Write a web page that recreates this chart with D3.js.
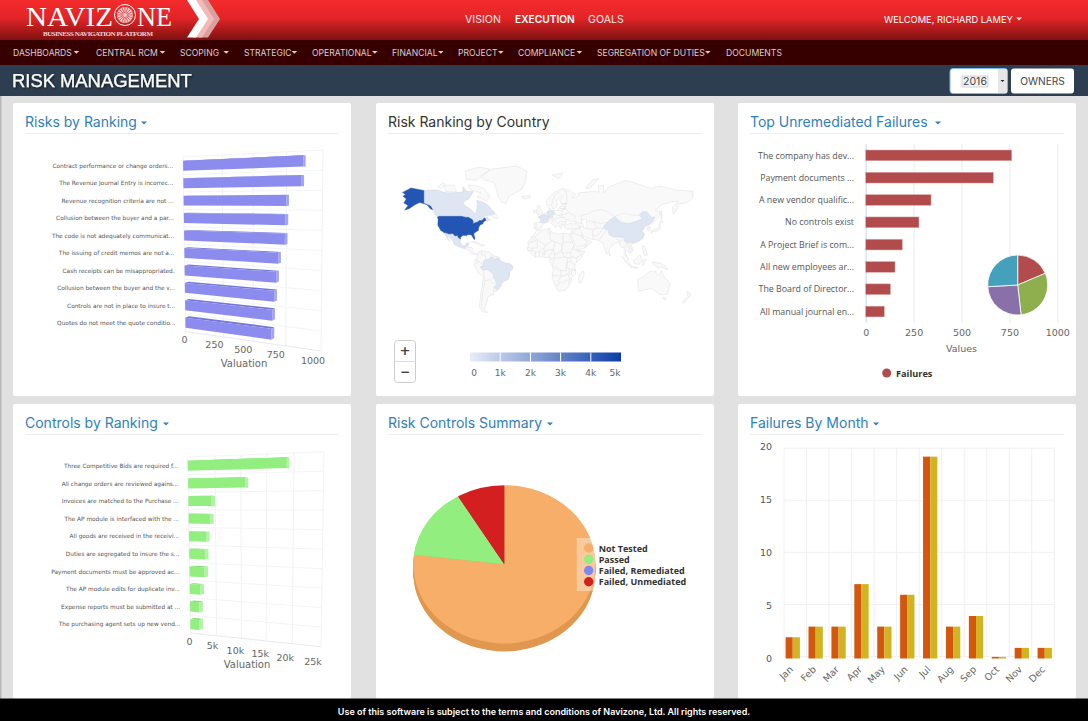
<!DOCTYPE html>
<html lang="en">
<head>
  <meta charset="UTF-8">
  <title>Risk Management</title>
  <script src="https://d3js.org/d3.v7.min.js"></script>
  <style>
    html, body { margin: 0; padding: 0; background: #e1e1e1; overflow: hidden; }
    svg { display: block; }
    text { font-family: "DejaVu Sans", sans-serif; }
    .nav { font-family: Inter, "Open Sans", sans-serif; }
    .grid line { stroke: #e8ecf2; }
  </style>
</head>
<body>
  <svg id="page" width="1088" height="721"></svg>

  <script>
    // chart values
    const riskLabels = ["Contract performance or change orders...", "The Revenue Journal Entry is incorrec...", "Revenue recognition criteria are not ...", "Collusion between the buyer and a par...", "The code is not adequately communicat...", "The issuing of credit memos are not a...", "Cash receipts can be misappropriated.", "Collusion between the buyer and the v...", "Controls are not in place to insure t...", "Quotes do not meet the quote conditio..."];
    const riskValues = [865, 855, 750, 745, 740, 690, 675, 660, 645, 640];
    const riskTicks = [0, 250, 500, 750, 1000];

    const controlLabels = ["Three Competitive Bids are required f...", "All change orders are reviewed agains...", "Invoices are matched to the Purchase ...", "The AP module is interfaced with the ...", "All goods are received in the receivi...", "Duties are segregated to insure the s...", "Payment documents must be approved ac...", "The AP module edits for duplicate inv...", "Expense reports must be submitted at ...", "The purchasing agent sets up new vend..."];
    const controlValues = [18700, 10800, 4325, 4000, 3200, 2950, 2850, 2000, 1750, 1700];
    const controlTicks = [0, 5000, 10000, 15000, 20000, 25000];

    const failureLabels = ["The company has dev...", "Payment documents ...", "A new vendor qualific...", "No controls exist", "A Project Brief is com...", "All new employees ar...", "The Board of Director...", "All manual journal en..."];
    const failureValues = [762, 666, 341, 278, 191, 153, 129, 97];
    const failureTicks = [0, 250, 500, 750, 1000];
    const miniPieValues = [186, 296, 259, 259];

    const summaryLabels = ["Not Tested", "Passed", "Failed, Remediated", "Failed, Unmediated"];
    const summaryValues = [769, 146, 0, 85];

    const months = ["Jan", "Feb", "Mar", "Apr", "May", "Jun", "Jul", "Aug", "Sep", "Oct", "Nov", "Dec"];
    const monthSeriesA = [2, 3, 3, 7, 3, 6, 19, 3, 4, 0.15, 1, 1];
    const monthSeriesB = [2, 3, 3, 7, 3, 6, 19, 3, 4, 0.15, 1, 1];
    const monthTicks = [0, 5, 10, 15, 20];

    const legendTicks = [0, 1000, 2000, 3000, 4000, 5000];

    const navItems = ["DASHBOARDS", "CENTRAL RCM", "SCOPING", "STRATEGIC", "OPERATIONAL", "FINANCIAL", "PROJECT", "COMPLIANCE", "SEGREGATION OF DUTIES", "DOCUMENTS"];

    // rough country outlines, [lon, lat]
    const usaRings = [
      [[-124.7,48.4],[-123,49],[-95.2,49],[-94.6,48.7],[-89.6,48],[-88.4,48.3],[-84.8,46.7],[-83.5,46],[-82.5,45.3],[-82.1,43],[-83,42],[-79,42.8],[-79,43.3],[-76.5,43.6],[-75,45],[-71.5,45],[-70,46.5],[-69,47.4],[-67.8,47],[-67,45],[-70,43.7],[-70.5,41.8],[-74,40.6],[-75.5,38],[-76,35],[-78,33.9],[-81,32],[-81.4,30.5],[-80,26.8],[-80.4,25.2],[-81.8,26],[-82.8,28],[-84,30],[-86,30.4],[-89,30.3],[-90,29.2],[-93.8,29.7],[-97,28],[-97.2,25.9],[-99.2,26.5],[-101.4,29.8],[-103,29],[-104.5,29.6],[-106.5,31.8],[-108.2,31.4],[-111,31.3],[-114.8,32.5],[-117.1,32.5],[-118.5,34],[-120.6,34.6],[-122.5,37.5],[-124.3,40.3],[-124,46]],
      [[-141,69.6],[-141,60.3],[-137,58.9],[-133,55.5],[-130.5,55],[-133,58],[-137.5,59.2],[-146,60.8],[-151,59.3],[-154,58],[-158,56],[-164,54.5],[-160,58.5],[-165,60.5],[-162,63.5],[-166,65.5],[-163,67],[-166.5,68.3],[-156.5,71.3]]
    ];
    const tintedRings = [
      // canada
      [[-141,69.6],[-130,70],[-125,70],[-115,68],[-108,68],[-95,68.5],[-94,72],[-90,69],[-82,69],[-87,64],[-94,61],[-93,58.7],[-85,55.5],[-82,52.5],[-79,51.5],[-78,55],[-77,60],[-78,62.5],[-70,61],[-65,59],[-60,55],[-56,52],[-60,50],[-66,50],[-70,47],[-65,48.5],[-64,46],[-61,46],[-66,44],[-67,45],[-67.8,47],[-69,47.4],[-70,46.5],[-71.5,45],[-75,45],[-76.5,43.6],[-79,43.3],[-79,42.8],[-83,42],[-82.1,43],[-82.5,45.3],[-83.5,46],[-84.8,46.7],[-88.4,48.3],[-89.6,48],[-94.6,48.7],[-95.2,49],[-123,49],[-124.7,48.4],[-128,51],[-130.5,55],[-137,58.9],[-141,60.3]],
      // mexico
      [[-117.1,32.5],[-114.8,32.5],[-111,31.3],[-108.2,31.4],[-106.5,31.8],[-104.5,29.6],[-103,29],[-101.4,29.8],[-99.2,26.5],[-97.2,25.9],[-97.8,22.5],[-96,19],[-94,18.2],[-91,18.7],[-90.5,21],[-87,21.5],[-88,18],[-89,17.9],[-91,17],[-92.2,14.6],[-96,15.8],[-101,17.5],[-105.5,20],[-106,23],[-109.3,26.5],[-112.8,30],[-114.5,31],[-110,23],[-112,25],[-115,29]],
      // brazil
      [[-73.9,-7.4],[-70,-4.3],[-70,0],[-67,1.5],[-64,2],[-60,5],[-57,2],[-54,2.3],[-51.5,4.4],[-50,0],[-44.5,-2.5],[-38,-3.7],[-35,-6],[-35,-9],[-38.5,-13],[-39,-18],[-41,-22],[-45,-23.5],[-48.5,-26],[-48.8,-28.5],[-53.4,-33.8],[-57.6,-30.2],[-53.8,-27],[-54.6,-25.5],[-55.8,-22.3],[-58,-20],[-58,-16.3],[-60.2,-13.8],[-65.3,-10],[-70.5,-11]],
      // china
      [[73.5,39.5],[80,45],[87,49],[91,45.5],[96,43],[104,42],[112,44],[120,47],[116,50],[120,53.3],[125,53],[131,48],[135,48.3],[131,43],[124.5,40],[121,39],[122,37],[119,35],[122,31],[120,26],[114,22.5],[108,21.5],[102,22],[98,24],[98,28],[92,28],[86,28],[80,30.5],[79,35],[74.5,37]],
      // france
      [[-1,46],[-4.5,48.5],[1.5,50.5],[2.5,51],[6,49.5],[8,49],[7,44],[3.5,43],[3,42.5],[-2,43.4]],
      // germany
      [[7,53.5],[8,54],[10.8,54],[14,54],[15,51],[12,50.3],[13,47.6],[7.5,47.6],[8,49],[6,51]]
    ];
    const landRings = [
      // greenland, arctic islands, newfoundland
      [[-73,78],[-60,82],[-30,83.5],[-18,81],[-20,75],[-24,70.5],[-32,68],[-40,65],[-43,60],[-48,61],[-53,66],[-54,70],[-58,75],[-68,76]],
      [[-80,73],[-70,71],[-62,66],[-66,62],[-73,64],[-78,65],[-73,68],[-85,70],[-88,73]],
      [[-117,73],[-105,73],[-102,69],[-115,69]],
      [[-90,76.5],[-78,76],[-62,82],[-75,83],[-92,81]],
      [[-125,72],[-117,74.5],[-115,73],[-120,71]],
      [[-59,47.7],[-53,46.7],[-53,49],[-56,51.5]],
      // central america, caribbean
      [[-92.2,14.6],[-91,17],[-89,17.9],[-88.3,16],[-84,15.8],[-83,14.9],[-83.6,11],[-82,9],[-79.5,9.5],[-77.3,8.7],[-78,7.5],[-80.5,7.5],[-83,8.3],[-85.7,10],[-87.5,13],[-90,13.8]],
      [[-85,22],[-80,23],[-74.2,20.2],[-77.7,19.9],[-82,22]],
      [[-74.4,18.5],[-72,20],[-68.4,18.6],[-71,17.8]],
      // south america
      [[-77.3,8.7],[-75,11],[-71.5,12.4],[-68,11],[-62,10.7],[-60,8.5],[-57,6],[-54,5.8],[-51.5,4.4],[-50,0],[-44.5,-2.5],[-38,-3.7],[-35,-6],[-35,-9],[-38.5,-13],[-39,-18],[-41,-22],[-45,-23.5],[-48.5,-26],[-48.8,-28.5],[-53.4,-33.8],[-55,-35],[-58,-34.5],[-57,-38],[-62,-39],[-65,-41],[-65.5,-45],[-68,-50],[-68.5,-52.5],[-65,-55],[-71,-54.5],[-75,-50],[-73.5,-42],[-73,-37],[-71.5,-30],[-70,-18.5],[-76,-14],[-81.2,-5],[-80,-2],[-80,1],[-77.5,4]],
      // africa, madagascar
      [[-5.9,35.8],[-1,35.2],[10,37.3],[11,33.5],[15,32.3],[20,31],[25,32],[32,31.3],[34.2,31.3],[33,28],[37,21],[39,15.5],[43,12],[51,12],[48,5],[40,-3],[39,-7],[40.5,-15],[35,-20],[35.5,-24],[32.8,-26],[32,-29],[27,-33.8],[20,-34.8],[18,-33],[15,-27],[12,-18],[13.5,-11],[12,-5],[9,-1],[9.5,4],[5,4.3],[-4,5],[-8,4.4],[-13,8.5],[-16.8,12.5],[-17.4,14.7],[-16,19],[-17,21],[-13,27.5],[-10,30],[-6.8,34]],
      [[49.3,-12],[50.4,-16],[47,-25],[44,-25],[43.5,-20],[44.5,-16]],
      // eurasia
      [[-9,37],[-9.3,43],[-2,43.5],[-1,46],[-4.5,48.5],[1.5,50.5],[4,52],[8,54],[8.5,57],[10.8,54],[14,54],[19,54.5],[21,57],[24,59.4],[30,60],[23,60],[21,63],[25,65.5],[22,65.8],[17.5,62],[18.5,59.5],[16.5,56.5],[13,55.5],[11,59],[6,58],[5,62],[14,68],[25,71],[31,70],[41,67],[35,64.5],[40,64.6],[44,66],[44,68],[54,68.5],[60,69],[68,68.5],[67,72.5],[73,73],[74,68],[80,72],[100,76],[113,74],[130,71],[140,72.5],[160,70],[180,69],[180,65],[177,62.5],[170,60],[163,59.8],[162,56],[157,51],[155.5,57],[163,62],[156,61.5],[143,59],[135,54.5],[141,53],[140,48],[133,43],[130,42.5],[127.5,39.8],[129.5,37],[129,35],[126.5,34.5],[125,38],[124.5,40],[121,39],[122,37],[119,35],[122,31],[120,26],[114,22.5],[110,21],[106,19.5],[109,13],[105,9],[103,11],[100.5,13.5],[99.5,9],[103.5,1.5],[100.5,5],[98,8],[98,16],[94.5,16],[92,21],[90,22],[87,21],[80.5,15],[80,10],[77.5,8],[73,19],[72,21],[67,24.5],[61,25],[57,26],[52,27.5],[48,30],[51,25],[56,24.5],[59.5,22.5],[52,16],[43,12.7],[39,21],[35,28],[34.2,31.3],[36,36.5],[30,36.3],[26.5,38.5],[26.5,40.3],[29,41],[35,42],[41.5,41.5],[38,44.5],[34,44.4],[30,46],[28,42],[26,40.8],[23,40],[24,38],[22.5,36.5],[19.5,41.5],[13.5,45.5],[12.5,44],[18.5,40],[16,38],[11,42.5],[8.5,44],[3.5,43],[0.5,40.5],[-0.5,38],[-5.5,36]],
      // islands around eurasia
      [[-5.5,50],[1.5,51.5],[0,53.5],[-2,56],[-2,57.7],[-5,58.5],[-5.5,55],[-3,54],[-5,52]],
      [[-10,52],[-6,52.3],[-6,55],[-10,54]],
      [[-24,65.5],[-14,66],[-14,64.5],[-22,63.5]],
      [[130.5,31.5],[132,34],[136.5,34],[141,36],[142,40],[140,41.5],[139,38],[133,35.5],[130,33.5]],
      [[140,42],[145,43.5],[142,45.5]],
      [[120,18],[122,18],[124,13],[126,7],[122,7],[120,14]],
      [[95.5,5.5],[104,-2],[106,-6],[101,-3]],
      [[109,1],[117,7],[119,1],[116,-4],[110,-3]],
      [[105.5,-6.5],[114.5,-7.5],[114.5,-8.7],[106,-7.5]],
      [[120,1],[125,1.5],[122,-1],[122,-5],[119.5,-5]],
      [[131,-1],[141,-2.6],[147,-6],[150.5,-10.5],[144,-8],[138,-8],[133,-4]],
      [[80,9.5],[82,7],[80.5,6]],
      [[142,54],[143.5,50],[142.5,46],[142,50]],
      [[52,71],[57,71],[68,77],[60,76]],
      [[12,79],[25,80],[20,77]],
      // oceania
      [[114,-22],[122,-18],[126,-14],[130,-12],[136,-12],[136,-15],[140,-17.5],[142.5,-11],[146,-19],[153,-26],[150,-37.5],[145,-38.5],[140,-38],[136,-35],[131,-31.5],[124,-33],[115,-34.5],[115,-30]],
      [[144.5,-41],[148,-41],[147,-43.5],[146,-43.5]],
      [[172.7,-34.5],[178,-38],[175,-41.5],[174,-39]],
      [[172,-41],[174,-42],[170,-46.5],[167,-46]]
    ];
    const borderLines = [
      // south america
      [[-71.5,12.4],[-72.5,7.5],[-67.5,6],[-67,1.5]],[[-70,-4.3],[-75,-1],[-78.5,-3.5],[-80,-3.5]],[[-78.8,1.4],[-75,-0.2]],[[-70.5,-11],[-69,-16],[-70,-18.5]],[[-69,-18],[-68,-24],[-70,-33],[-71.5,-40],[-72,-50],[-68.5,-52.5]],[[-68,-23],[-62.5,-22],[-58,-20]],[[-62.5,-22],[-58,-27],[-54.6,-25.5]],[[-58,-34],[-57.6,-30.2]],[[-60,8],[-60,5]],[[-57,6],[-57,2]],[[-54,5.8],[-54,2.3]],
      // africa
      [[-1,35.2],[-2,32],[-8.7,28],[-13,27.5]],[[8.5,37],[7.7,33],[9.5,30]],[[11,33.5],[9.5,30],[10,24.5],[14,23],[24,19.5],[25,20],[25,32]],[[-8.7,27.3],[-5,25],[3,19],[5.7,19.5],[12,23.5]],[[-17,21],[-13,21.3],[-13,23],[-8.7,27.3]],[[-13,21.3],[-6,25]],[[-16.5,16],[-12,15],[-5.5,15.5],[-6,25]],[[-12,15],[-11.5,12.3],[-8,10.5],[-5,11],[-3,11],[1,15],[3.5,15.5],[4,19]],[[3.5,11.7],[3,12.5],[1,15]],[[3.5,11.7],[8,13],[13.5,13.5],[15.5,20.5],[14,23]],[[13.5,13.5],[15,8],[19,9],[22,11],[23.5,15.5],[24,19.5]],[[25,22],[37,22]],[[25,20],[23.5,15.5],[24,10],[27,9.5],[34,10],[36,14.5],[38.5,18]],[[24,10],[27,5],[31,3.5],[35,5],[34,10]],[[36,14.5],[43,12]],[[35,5],[41,4],[48,8],[43,12]],[[41,-1.5],[41,4]],[[35,5],[34,-1],[39.3,-4.6]],[[34,-1],[30,-1],[30,-4.5],[29.5,-6.5],[32,-9.5],[40,-10.5]],[[18.5,3.5],[27,5],[31,3.5],[30,-1],[29.5,-6.5],[28.5,-12],[22,-11],[13,-6]],[[2.7,6.3],[3.5,11.7]],[[8.5,4.5],[13.5,13.5]],[[15,8],[15,3.5],[18.5,3.5]],[[15,3.5],[9.5,2.2]],[[14,2],[13,-3.5],[12,-5]],[[12,-17.3],[23,-17.5],[22,-11]],[[23,-17.5],[25,-18],[30,-15.5],[33,-13],[32,-9.5]],[[40.5,-10.5],[35,-11.5],[35,-16],[30.5,-15.5],[33,-20],[32,-26]],[[17,-28.5],[20,-28],[20,-22],[23,-18]],[[20,-25],[25,-25.5],[29,-22.5],[32,-22.5]],[[-8,10.5],[-8,4.4]],[[-3,11],[-3,5]],[[1,11],[1,6]],[[-16.8,12.5],[-11.5,12.3]],
      // europe
      [[25,70],[29,69],[30,62],[28,60.5]],[[20,69],[14,65],[12,60],[11,59]],[[28,59.5],[28,56],[23,54.3]],[[21,56],[28,56]],[[24,58],[27.5,57.5]],[[19,54.5],[23.5,54],[24,50.5],[19,49.5],[15,51]],[[-7,42],[-7,37]],[[7,44],[7,46],[13.5,46.5]],[[13.5,46],[16.5,46.5],[22,48],[27,48],[29,45.5]],[[22.5,44],[28,44]],[[22,41.5],[26,41.5]],[[19.3,42],[22,44]],[[24,50.5],[32,52],[40,49.5],[38.2,47]],[[22.3,48.3],[24,50.5]],[[23.5,54],[28,56],[32,53]],
      // asia
      [[47,45],[47,50],[55,51],[61,54],[70,55],[77,53.5],[87,49]],[[87,49],[98,52],[107,50],[116,50]],[[53,42],[56,45],[61,44],[66,43],[70,42],[74,43],[80,43]],[[54,37],[61,36],[66,37.5],[74,37.5]],[[61,44],[66,37.5]],[[44.5,39.5],[48,38.5]],[[44.5,39.5],[46,35],[48,30]],[[61,36],[60.5,31],[61.5,25]],[[60.5,31],[61,29.5],[66,29.5],[70,33],[71.5,36.5],[74.5,37]],[[68,24],[71,28],[74,32],[77,35]],[[26.5,41],[28,42]],[[36,36.5],[44.5,37],[44.5,39.5],[43,41.5]],[[38,44],[48,42]],[[35,32],[39,32],[46,29],[48,30]],[[36,33],[42,37]],[[46,29],[51,25]],[[43,17],[52,19],[55,22],[52,24]],[[52,19],[52,16]],[[88,26],[92,25],[92,21]],[[92,28],[97,28],[95,24],[92,21]],[[98,24],[101,21],[100,18],[98,16]],[[102,22],[104,19],[107,15],[106,11]],[[101,18],[105,15],[103,11]],[[99.5,7],[102,6]],[[124.5,40],[130,42.5]],[[126,38],[128.5,38.5]]
    ];
    const caspianRing = [[47,45],[53,46.8],[53,40],[54,37],[50,37.5],[49,40.5]];

    const svg = d3.select("#page");
    const defs = svg.append("defs");

    function gradient(id, stops, horizontal) {
      const g = defs.append("linearGradient").attr("id", id)
        .attr("x1", 0).attr("y1", 0).attr("x2", horizontal ? 1 : 0).attr("y2", horizontal ? 0 : 1);
      stops.forEach(s => g.append("stop").attr("offset", s[0]).attr("stop-color", s[1]));
    }
    gradient("headerFill", [[0, "#f42b2c"], [0.45, "#e32426"], [1, "#7f1111"]]);
    gradient("mapLegend", [[0, "#e8edf7"], [1, "#0a3ca8"]], true);
    const shadow = defs.append("filter").attr("id", "textShadow");
    shadow.append("feDropShadow").attr("dx", 1).attr("dy", 1).attr("stdDeviation", 0.8).attr("flood-color", "#000").attr("flood-opacity", 0.6);

    // page frame
    svg.append("rect").attr("width", 1088).attr("height", 721).attr("fill", "#e1e1e1");
    svg.append("rect").attr("y", 96).attr("width", 1.5).attr("height", 603).attr("fill", "#b8b8b8");
    svg.append("rect").attr("width", 1088).attr("height", 40).attr("fill", "url(#headerFill)");
    svg.append("rect").attr("y", 40).attr("width", 1088).attr("height", 25).attr("fill", "#360000");
    svg.append("rect").attr("y", 65).attr("width", 1088).attr("height", 31).attr("fill", "#2d3e50");

    function caret(g, x, y, color, size) {
      g.append("path").attr("d", d3.line()([[x, y], [x + size * 2, y], [x + size, y + size]])).attr("fill", color);
    }

    // logo
    const logo = svg.append("g");
    logo.append("text").attr("x", 26).attr("y", 25.5).attr("font-size", 28).attr("fill", "#fff")
      .style("font-family", "'Liberation Serif'").attr("textLength", 87).attr("lengthAdjust", "spacingAndGlyphs").text("NAVIZ");
    logo.append("text").attr("x", 137).attr("y", 25.5).attr("font-size", 28).attr("fill", "#fff")
      .style("font-family", "'Liberation Serif'").attr("textLength", 35).attr("lengthAdjust", "spacingAndGlyphs").text("NE");
    logo.append("circle").attr("cx", 125).attr("cy", 15).attr("r", 10.5).attr("fill", "none").attr("stroke", "#fff").attr("stroke-width", 1);
    logo.append("circle").attr("cx", 125).attr("cy", 15).attr("r", 8).attr("fill", "#fff").attr("opacity", 0.75);
    d3.range(16).forEach(i => {
      const a = i / 16 * 2 * Math.PI;
      logo.append("line").attr("x1", 125 + 2 * Math.cos(a)).attr("y1", 15 + 2 * Math.sin(a))
        .attr("x2", 125 + 8 * Math.cos(a)).attr("y2", 15 + 8 * Math.sin(a)).attr("stroke", "#c22").attr("stroke-width", 0.6);
    });
    logo.append("text").attr("x", 43).attr("y", 35.5).attr("font-size", 7).attr("font-weight", "bold").attr("fill", "#f2d4d4")
      .style("font-family", "'Liberation Serif'").attr("textLength", 110).text("BUSINESS NAVIGATION PLATFORM");
    [[12, "#d9a0a0"], [6, "#f3b9b9"], [0, "#fff"]].forEach(c => {
      const o = c[0];
      logo.append("polygon").attr("fill", c[1])
        .attr("points", [[187 + o, 0], [196 + o, 0], [208 + o, 19], [196 + o, 37.5], [187 + o, 37.5], [199 + o, 19]].join(" "));
    });

    // top nav
    const topNav = svg.append("g").attr("class", "nav").attr("fill", "#f6e6e6").attr("font-size", 11);
    topNav.append("text").attr("x", 465).attr("y", 23).attr("font-size", 10.6).text("VISION").style("font-family", "Inter");
    topNav.append("text").attr("x", 515).attr("y", 23).attr("font-size", 10.2).attr("font-weight", 600).attr("fill", "#fff").text("EXECUTION").style("font-family", "Inter");
    topNav.append("text").attr("x", 588).attr("y", 23).attr("font-size", 10.6).text("GOALS").style("font-family", "Inter");
    topNav.append("text").attr("x", 884).attr("y", 22.5).attr("font-size", 9.3).attr("fill", "#fff").text("WELCOME, RICHARD LAMEY").style("font-family", "Inter");
    caret(topNav, 1016, 17.5, "#f2dede", 3);

    const subNav = svg.append("g").attr("fill", "#d9cfcf").attr("font-size", 8.6);
    const navX = [13, 96, 180, 244, 312, 392, 458, 518, 597, 726];
    const navCaret = [73.6, 159.7, 223.4, 291.6, 372, 438, 498, 576.6, 705, null];
    navItems.forEach((name, i) => {
      subNav.append("text").attr("x", navX[i]).attr("y", 55.5).text(name).style("font-family", "Inter");
      if (navCaret[i]) caret(subNav, navCaret[i], 51, "#d9cfcf", 2.8);
    });

    // title bar
    svg.append("text").attr("x", 12).attr("y", 86.5).attr("font-size", 18.4).attr("fill", "#fff").attr("stroke", "#fff").attr("stroke-width", 0.25)
      .style("font-family", "'Liberation Sans'").attr("filter", "url(#textShadow)").text("RISK MANAGEMENT");
    svg.append("rect").attr("x", 950).attr("y", 68.5).attr("width", 57.5).attr("height", 25).attr("rx", 3).attr("fill", "#fff").attr("stroke", "#7db7e8");
    svg.append("rect").attr("x", 962).attr("y", 76).attr("width", 26).attr("height", 11).attr("fill", "#f3f3f3").attr("stroke", "#bbb").attr("stroke-width", 0.6);
    svg.append("text").attr("x", 975).attr("y", 85).attr("text-anchor", "middle").attr("font-size", 10.5).attr("fill", "#444").text("2016").style("font-family", "Inter");
    svg.append("rect").attr("x", 998).attr("y", 69).attr("width", 9).attr("height", 24).attr("fill", "#e6e6e6");
    caret(svg, 1000.5, 80, "#222", 2);
    svg.append("rect").attr("x", 1011).attr("y", 68.5).attr("width", 63).attr("height", 25).attr("rx", 3).attr("fill", "#fff");
    svg.append("text").attr("x", 1042.5).attr("y", 84.5).attr("text-anchor", "middle").attr("font-size", 10.2).attr("fill", "#444").text("OWNERS").style("font-family", "Inter");

    // cards
    function card(x, y, h, title, titleColor, hasCaret, titleWidth) {
      svg.append("rect").attr("x", x).attr("y", y).attr("width", 338).attr("height", h).attr("rx", 2).attr("fill", "#fff");
      svg.append("text").attr("x", x + 12).attr("y", y + 24).attr("font-size", 14).attr("fill", titleColor).text(title).style("font-family", "Inter");
      if (hasCaret) caret(svg, x + 12 + titleWidth + 5, y + 18.5, titleColor, 3);
      svg.append("line").attr("x1", x + 12).attr("x2", x + 326).attr("y1", y + 30.5).attr("y2", y + 30.5).attr("stroke", "#eceef2");
    }
    card(13, 103, 293, "Risks by Ranking", "#2f80c0", true, 111);
    card(376, 103, 293, "Risk Ranking by Country", "#333", false, 0);
    card(738, 103, 293, "Top Unremediated Failures", "#2f80c0", true, 180);
    card(13, 404, 295, "Controls by Ranking", "#2f80c0", true, 133);
    card(376, 404, 295, "Risk Controls Summary", "#2f80c0", true, 154);
    card(738, 404, 295, "Failures By Month", "#2f80c0", true, 118);

    // perspective bar chart, built from a value scale and a band scale on a skewed plane
    function perspectiveBars(o) {
      const g = svg.append("g");
      const u = d3.scaleLinear().domain(o.ticks).range(o.uStops);
      const band = d3.scaleBand().domain(o.labels).range([0, 1]).paddingInner(0.43).paddingOuter(0.215);
      const lerp = (a, b, t) => [a[0] + (b[0] - a[0]) * t, a[1] + (b[1] - a[1]) * t];
      const plane = (v, t) => lerp(lerp(o.topLeft, o.botLeft, t), lerp(o.topRight, o.botRight, t), u(v));
      const backOf = p => lerp(p, o.vanish, o.depth);

      // walls
      o.ticks.forEach(v => {
        g.append("line").attr("x1", plane(v, 0)[0]).attr("y1", plane(v, 0)[1]).attr("x2", plane(v, 1)[0]).attr("y2", plane(v, 1)[1])
          .attr("stroke", "#f0f2f5");
      });
      const maxV = o.ticks[o.ticks.length - 1];
      band.domain().forEach((d, i) => {
        const t = band.step() * i;
        g.append("line").attr("x1", plane(0, t)[0]).attr("y1", plane(0, t)[1]).attr("x2", plane(maxV, t)[0]).attr("y2", plane(maxV, t)[1])
          .attr("stroke", "#f3f4f7");
      });
      g.append("line").attr("x1", plane(0, 1)[0]).attr("y1", plane(0, 1)[1]).attr("x2", plane(maxV, 1)[0]).attr("y2", plane(maxV, 1)[1]).attr("stroke", "#e6e9ee");

      // bars
      o.values.forEach((v, i) => {
        const t0 = band(o.labels[i]);
        const t1 = t0 + band.bandwidth();
        const a = plane(0, t0), b = plane(v, t0), c = plane(v, t1), d = plane(0, t1);
        g.append("polygon").attr("points", [a, backOf(a), backOf(b), b].join(" ")).attr("fill", o.topColor);
        g.append("polygon").attr("points", [b, backOf(b), backOf(c), c].join(" ")).attr("fill", o.sideColor);
        g.append("polygon").attr("points", [a, b, c, d].join(" ")).attr("fill", o.color);
        const left = plane(0, (t0 + t1) / 2);
        g.append("text").attr("x", lerp([o.labelX[0], 0], [o.labelX[1], 0], (t0 + t1) / 2)[0]).attr("y", left[1] + 2.2)
          .attr("text-anchor", "end").attr("font-size", o.labelSize).attr("fill", "#555").text(o.labels[i]);
      });

      // value ticks
      o.ticks.forEach((v, i) => {
        const p = plane(v, 1);
        g.append("text").attr("x", p[0] + o.tickDx[i]).attr("y", p[1] + o.tickDy[i] + 3.3).attr("text-anchor", "middle")
          .attr("font-size", 9.5).attr("fill", "#666").text(o.tickFormat(v));
      });
      g.append("text").attr("x", o.titlePos[0]).attr("y", o.titlePos[1]).attr("text-anchor", "middle").attr("font-size", 10).attr("fill", "#666").text("Valuation");
    }

    perspectiveBars({
      labels: riskLabels, values: riskValues, ticks: riskTicks, uStops: [0, 0.28, 0.5, 0.74, 1],
      topLeft: [183, 157], botLeft: [185.5, 331.5], topRight: [323, 150], botRight: [321, 351],
      vanish: [500, 190], depth: 0.012, color: "#8b8cee", sideColor: "#a2a3f4", topColor: "#7476dc",
      labelX: [173, 175.5], labelSize: 5.8,
      tickDx: [-1, -9, -10, -10, -8], tickDy: [8.5, 8, 8, 9, 10],
      tickFormat: d3.format("d"), titlePos: [244, 367]
    });
    perspectiveBars({
      labels: controlLabels, values: controlValues, ticks: controlTicks, uStops: [0, 0.2, 0.39, 0.58, 0.78, 1],
      topLeft: [187.7, 457], botLeft: [190.5, 633], topRight: [324, 451.7], botRight: [321, 646.7],
      vanish: [500, 520], depth: 0.012, color: "#93ee80", sideColor: "#b0f3a2", topColor: "#7fdc6d",
      labelX: [178, 180.5], labelSize: 5.8,
      tickDx: [-1, -4, -6, -6, -7, -8], tickDy: [9, 10, 12, 13, 14, 15],
      tickFormat: v => v === 0 ? "0" : (v / 1000) + "k", titlePos: [247, 668]
    });

    // world map
    const millerRaw = (lam, phi) => [lam, 1.25 * Math.log(Math.tan(Math.PI / 4 + 0.4 * phi))];
    const projection = d3.geoProjection(millerRaw).scale(48).translate([542, 261]).clipExtent(null);
    const ringPath = d3.line().x(d => projection(d)[0]).y(d => projection(d)[1]).curve(d3.curveLinearClosed);
    const openPath = d3.line().x(d => projection(d)[0]).y(d => projection(d)[1]);
    const map = svg.append("g").attr("stroke-linejoin", "round");
    map.selectAll(".land").data(landRings).join("path").attr("d", ringPath).attr("fill", "#f9f9f9").attr("stroke", "#dedede").attr("stroke-width", 0.5);
    map.selectAll(".border").data(borderLines).join("path").attr("d", openPath).attr("fill", "none").attr("stroke", "#dedede").attr("stroke-width", 0.5);
    map.append("path").attr("d", ringPath(caspianRing)).attr("fill", "#fff").attr("stroke", "#dedede").attr("stroke-width", 0.5);
    map.selectAll(".tint").data(tintedRings).join("path").attr("d", ringPath).attr("fill", "#dfe6f3").attr("stroke", "#d0d6e2").attr("stroke-width", 0.5);
    map.selectAll(".usa").data(usaRings).join("path").attr("d", ringPath).attr("fill", "#2356b4").attr("stroke", "#2356b4").attr("stroke-width", 0.4);

    // map zoom buttons
    svg.append("rect").attr("x", 394.5).attr("y", 340.5).attr("width", 21).attr("height", 42).attr("rx", 3).attr("fill", "#fff").attr("stroke", "#ccc");
    svg.append("line").attr("x1", 394.5).attr("x2", 415.5).attr("y1", 361.5).attr("y2", 361.5).attr("stroke", "#ddd");
    svg.append("text").attr("x", 405).attr("y", 355).attr("text-anchor", "middle").attr("font-size", 13).attr("font-weight", "bold").attr("fill", "#444").text("+");
    svg.append("text").attr("x", 405).attr("y", 376).attr("text-anchor", "middle").attr("font-size", 12).attr("font-weight", "bold").attr("fill", "#444").text("−");

    // map colour legend
    const legendX = d3.scaleLinear().domain([0, 5000]).range([470, 621]);
    svg.append("rect").attr("x", legendX(0)).attr("y", 352.5).attr("width", legendX(5000) - legendX(0)).attr("height", 9).attr("fill", "url(#mapLegend)");
    const legendShift = { 0: 4, 5000: -6 };
    legendTicks.forEach(v => {
      if (v > 0 && v < 5000) svg.append("line").attr("x1", legendX(v)).attr("x2", legendX(v)).attr("y1", 352.5).attr("y2", 361.5).attr("stroke", "#fff");
      svg.append("text").attr("x", legendX(v) + (legendShift[v] || 0)).attr("y", 376).attr("text-anchor", "middle")
        .attr("font-size", 9).attr("fill", "#666").text(v === 0 ? "0" : (v / 1000) + "k");
    });

    // top unremediated failures
    const failX = d3.scaleLinear().domain([0, 1000]).range([865.7, 1057.3]);
    const failY = d3.scaleBand().domain(failureLabels).range([144.2, 322.7]).paddingInner(0.52).paddingOuter(0.26);
    const failG = svg.append("g");
    failG.append("g").attr("class", "grid").attr("transform", "translate(0,144.2)")
      .call(d3.axisBottom(failX).tickValues(failureTicks).tickSize(178.5).tickFormat(""))
      .call(g => g.select(".domain").remove());
    failG.select(".grid .tick line").style("stroke", "#ccd6eb");
    failG.append("g").attr("transform", "translate(0,322.7)")
      .call(d3.axisBottom(failX).tickValues(failureTicks).tickSize(0).tickPadding(7).tickFormat(d3.format("d")))
      .call(g => g.select(".domain").remove())
      .call(g => g.selectAll("text").attr("font-size", 9.5).attr("fill", "#666").style("font-family", "DejaVu Sans"));
    failG.selectAll("rect.bar").data(failureValues).join("rect").attr("class", "bar")
      .attr("x", failX(0)).attr("y", (d, i) => failY(failureLabels[i]))
      .attr("width", d => failX(d) - failX(0)).attr("height", failY.bandwidth()).attr("fill", "#b24c4c").attr("stroke", "#dda9a9").attr("stroke-width", 0.5);
    failG.selectAll("text.cat").data(failureLabels).join("text").attr("class", "cat")
      .attr("x", 854).attr("y", d => failY(d) + failY.bandwidth() / 2 + 3.2).attr("text-anchor", "end")
      .attr("font-size", 8.8).attr("fill", "#555").style("font-family", "'Open Sans'").text(d => d);
    failG.append("text").attr("x", 961.5).attr("y", 351.5).attr("text-anchor", "middle").attr("font-size", 9.5).attr("fill", "#666").text("Values");
    failG.append("circle").attr("cx", 886.7).attr("cy", 373).attr("r", 4.5).attr("fill", "#b24c4c");
    failG.append("text").attr("x", 896).attr("y", 376.5).attr("font-size", 9.2).attr("font-weight", "bold").attr("fill", "#333").style("font-family", "'Open Sans'").text("Failures");

    // small pie over the bars
    const miniPieColors = ["#b24c4c", "#8fae4e", "#8a70a8", "#44a0bb"];
    const miniArc = d3.arc().innerRadius(0).outerRadius(30);
    svg.append("g").attr("transform", "translate(1017.7,285)").selectAll("path")
      .data(d3.pie().sort(null)(miniPieValues)).join("path")
      .attr("d", miniArc).attr("fill", (d, i) => miniPieColors[i]).attr("stroke", "#fff").attr("stroke-width", 0.8);

    // risk controls summary pie
    const summaryColors = ["#f7ae68", "#93ee80", "#8286ef", "#d31f1f"];
    const summaryDepth = ["#e09850", "#7fd06e", "#7074d0", "#b01818"];
    const summaryPie = d3.pie().sort(null)(summaryValues);
    const summaryArc = d3.arc().innerRadius(0).outerRadius(91);
    const pieG = svg.append("g");
    d3.range(8, 0, -1).forEach(dy => {
      pieG.append("g").attr("transform", `translate(504.3,${564.3 + dy}) scale(1,0.87)`).selectAll("path")
        .data(summaryPie).join("path").attr("d", summaryArc).attr("fill", (d, i) => summaryDepth[i]);
    });
    pieG.append("g").attr("transform", "translate(504.3,564.3) scale(1,0.87)").selectAll("path")
      .data(summaryPie).join("path").attr("d", summaryArc).attr("fill", (d, i) => summaryColors[i]);
    pieG.append("rect").attr("x", 576.7).attr("y", 538).attr("width", 18.5).attr("height", 53).attr("fill", "#fff").attr("opacity", 0.35);
    const legendY = d3.scalePoint().domain(summaryLabels).range([548, 581.7]);
    summaryLabels.forEach((name, i) => {
      pieG.append("circle").attr("cx", 588.7).attr("cy", legendY(name)).attr("r", 4.7).attr("fill", summaryColors[i]);
      pieG.append("text").attr("x", 598.7).attr("y", legendY(name) + 3.5).attr("font-size", 9).attr("font-weight", "bold").attr("fill", "#333").style("font-family", "'Open Sans'").text(name);
    });

    // failures by month
    const monthGridX = d3.scaleBand().domain(months).range([784, 1054.3]);
    const monthGridY = d3.scaleLinear().domain([0, 20]).range([656, 447.7]);
    const monthX = d3.scaleBand().domain(months).range([781.3, 1056.2]).paddingInner(0.375).paddingOuter(0.1875);
    const monthY = d3.scaleLinear().domain([0, 20]).range([658.5, 446]);
    const monthG = svg.append("g");
    monthG.append("g").attr("class", "grid").attr("transform", "translate(784,0)")
      .call(d3.axisLeft(monthGridY).tickValues(monthTicks).tickSize(-270.3).tickFormat(""))
      .call(g => g.select(".domain").remove())
      .call(g => g.selectAll("line").style("stroke", "#f0f0f0"));
    monthG.append("g").attr("transform", "translate(772,0)")
      .call(d3.axisLeft(monthY).tickValues(monthTicks).tickSize(0).tickPadding(0).tickFormat(d3.format("d")))
      .call(g => g.select(".domain").remove())
      .call(g => g.selectAll("text").attr("font-size", 9.5).attr("fill", "#555").style("font-family", "DejaVu Sans"));
    months.concat(["end"]).forEach((m, i) => {
      const x = 784 + monthGridX.step() * i;
      monthG.append("line").attr("x1", x).attr("x2", x).attr("y1", 447.7).attr("y2", 656).attr("stroke", "#f0f0f0");
    });
    const half = monthX.bandwidth() / 2;
    monthG.selectAll("rect.a").data(monthSeriesA).join("rect").attr("class", "a")
      .attr("x", (d, i) => monthX(months[i])).attr("y", d => monthY(d)).attr("width", half).attr("height", d => monthY(0) - monthY(d)).attr("fill", "#d4570f");
    monthG.selectAll("rect.b").data(monthSeriesB).join("rect").attr("class", "b")
      .attr("x", (d, i) => monthX(months[i]) + half).attr("y", d => monthY(d)).attr("width", half).attr("height", d => monthY(0) - monthY(d)).attr("fill", "#d3b420");
    months.forEach(m => {
      const x = monthX(m) + half + 1;
      monthG.append("text").attr("transform", `translate(${x},670) rotate(-45)`).attr("text-anchor", "end")
        .attr("font-size", 9.5).attr("fill", "#666").text(m);
    });

    // footer
    svg.append("rect").attr("y", 698.5).attr("width", 1088).attr("height", 22.5).attr("fill", "#000");
    svg.append("text").attr("x", 544).attr("y", 714.5).attr("text-anchor", "middle").attr("font-size", 9).attr("font-weight", 600).attr("fill", "#fff")
      .style("font-family", "Inter").text("Use of this software is subject to the terms and conditions of Navizone, Ltd. All rights reserved.");
  </script>
</body>
</html>
